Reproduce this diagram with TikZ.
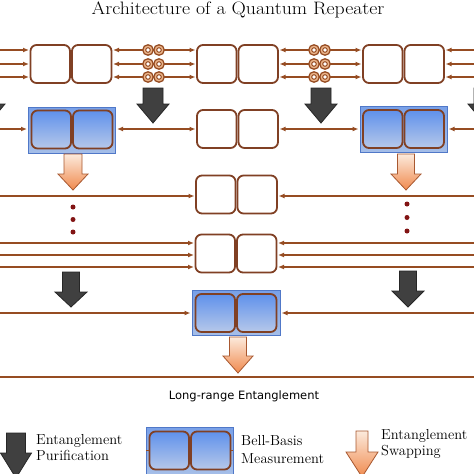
\documentclass[tikz,border=0pt]{standalone}
\usepackage{fontspec}
\newfontfamily\lrefont{DejaVu Sans}
\usetikzlibrary{arrows.meta,calc}
\definecolor{brn}{RGB}{150,76,34}
\definecolor{cellbrn}{RGB}{128,64,36}
\definecolor{bluetop}{RGB}{95,145,235}
\definecolor{bluebot}{RGB}{182,200,234}
\definecolor{bgtop}{RGB}{120,160,232}
\definecolor{bgbot}{RGB}{165,190,232}
\definecolor{blueedge}{RGB}{80,120,200}
\definecolor{darkfill}{RGB}{64,64,64}
\definecolor{orTop}{RGB}{252,234,220}
\definecolor{orBot}{RGB}{240,138,78}
\definecolor{orEdge}{RGB}{168,88,48}
\definecolor{ringfill}{RGB}{236,182,140}
\definecolor{dotred}{RGB}{130,20,20}
\newcommand\blockarrow[7]{%
  \path[#1] ({#2-#5},{-#3}) -- ({#2+#5},{-#3}) -- ({#2+#5},{-#7}) -- ({#2+#6},{-#7}) -- (#2,{-#4}) -- ({#2-#6},{-#7}) -- ({#2-#5},{-#7}) -- cycle;}
\newcommand\qpair[4]{%
  \node[pairbox] (#1) at (#2,#3) {};
  \node[#4, anchor=east] (#1a) at ([xshift=-1pt]#1.center) {};
  \node[#4, anchor=west] (#1b) at ([xshift=1pt]#1.center) {};}
\begin{document}
\begin{tikzpicture}[x=1pt,y=1pt,
  >={Latex[length=6pt,width=5pt]},
  conn/.style={draw=brn, line width=1.9pt},
  tipgap/.style={shorten >=1.5pt},
  bothgap/.style={shorten >=1.5pt, shorten <=1.5pt},
  cellb/.style={draw=cellbrn, line width=1.8pt, rounded corners=6pt, fill=white,
    minimum width=39.5pt, minimum height=38pt, inner sep=0pt, outer sep=0pt},
  bluecell/.style={cellb, top color=bluetop, bottom color=bluebot},
  pairbox/.style={minimum width=81pt, minimum height=38pt, inner sep=0pt, outer sep=0pt},
  bellbox/.style={draw=blueedge, line width=0.8pt, top color=bgtop, bottom color=bgbot,
    inner sep=0pt, outer sep=0pt, minimum width=87pt, minimum height=46pt},
  ring/.style={circle, draw=brn, fill=ringfill, line width=1.3pt, minimum size=10.5pt, inner sep=0pt,
    path picture={\draw[brn, line width=1pt, fill=white] (path picture bounding box.center) circle (2.3pt);}},
  qdot/.style={circle, fill=dotred, minimum size=5pt, inner sep=0pt},
  darkarr/.style={fill=darkfill, draw=black!85, line width=0.8pt},
  orarr/.style={top color=orTop, bottom color=orBot, draw=orEdge, line width=0.8pt},
  titlefont/.style={font=\fontsize{18}{22}\selectfont},
  legfont/.style={font=\fontsize{14.5}{17}\selectfont, inner sep=0pt},
]
\useasboundingbox (0,-474) rectangle (474,0);
\clip (0,-474) rectangle (474,0);
\fill[white] (0,-474) rectangle (474,0);
\coordinate (W) at (0,0);
\coordinate (E) at (474,0);

% title
\node[titlefont, anchor=base, inner sep=0pt] (title) at (238,-14) {\scalebox{1.1}[1]{Architecture of a Quantum Repeater}};

% ---- row 1
\qpair{A1}{71}{-64}{cellb}
\qpair{B1}{237.5}{-64}{cellb}
\qpair{C1}{403.5}{-64}{cellb}
\coordinate (ya) at (0,-50);
\coordinate (yb) at (0,-64);
\coordinate (yc) at (0,-77);
\foreach \r in {ya,yb,yc}{
  \draw[conn,->,tipgap] (W |- \r) -- (A1.west |- \r);
  \draw[conn,<->,bothgap] (A1.east |- \r) -- (B1.west |- \r);
  \draw[conn,<->,bothgap] (B1.east |- \r) -- (C1.west |- \r);
  \draw[conn,->,tipgap] (E |- \r) -- (C1.east |- \r);
}
\foreach \r/\n in {ya/a,yb/b,yc/c}{
  \node[ring] (rl1\n) at (148,0 |- \r) {};
  \node[ring] (rl2\n) at (159,0 |- \r) {};
  \node[ring] (rr1\n) at (314,0 |- \r) {};
  \node[ring] (rr2\n) at (325,0 |- \r) {};
}

% purification arrows row 1
\blockarrow{darkarr}{-11}{88}{123}{10}{16}{104}
\blockarrow{darkarr}{153}{88}{123}{10}{16}{104}
\blockarrow{darkarr}{321}{88}{123}{10}{16}{104}
\blockarrow{darkarr}{484}{88}{123}{10}{16}{104}

% ---- row 2
\node[bellbox] (A2bg) at (72,-130) {};
\qpair{A2}{72}{-129.5}{bluecell}
\qpair{B2}{237.5}{-129}{cellb}
\node[bellbox] (C2bg) at (403.5,-129) {};
\qpair{C2}{403.5}{-129}{bluecell}
\coordinate (y2) at (0,-129);
\draw[conn,->,tipgap] (W |- y2) -- (A2bg.west |- y2);
\draw[conn,<->,bothgap] (A2bg.east |- y2) -- (B2.west |- y2);
\draw[conn,<->,bothgap] (B2.east |- y2) -- (C2bg.west |- y2);
\draw[conn,->,tipgap] (E |- y2) -- (C2bg.east |- y2);

% swapping arrows
\blockarrow{orarr}{73}{154}{190}{9}{15}{174}
\blockarrow{orarr}{406}{154}{190}{8.5}{15}{174}

% ---- row 3
\qpair{B3}{236.5}{-194.5}{cellb}
\coordinate (y3) at (0,-196);
\draw[conn,->,tipgap] (W |- y3) -- (B3.west |- y3);
\draw[conn,->,tipgap] (E |- y3) -- (B3.east |- y3);

% dots
\node[qdot] (dl1) at (73,-207) {};
\node[qdot] (dl2) at (73,-219.5) {};
\node[qdot] (dl3) at (73,-232) {};
\node[qdot] (dr1) at (407,-204) {};
\node[qdot] (dr2) at (407,-217.5) {};
\node[qdot] (dr3) at (407,-231) {};

% ---- row 4
\qpair{B4}{236}{-253.5}{cellb}
\coordinate (y4a) at (0,-243);
\coordinate (y4b) at (0,-255);
\coordinate (y4c) at (0,-267);
\foreach \r in {y4a,y4b,y4c}{
  \draw[conn,->,tipgap] (W |- \r) -- (B4.west |- \r);
  \draw[conn,->,tipgap] (E |- \r) -- (B4.east |- \r);
}
\blockarrow{darkarr}{71}{272}{307}{8.5}{16}{292}
\blockarrow{darkarr}{408}{271}{307}{8.5}{16}{291}

% ---- row 5
\node[bellbox, minimum width=88pt, minimum height=45pt] (B5bg) at (236,-312.5) {};
\qpair{B5}{236}{-313}{bluecell}
\coordinate (y5) at (0,-313);
\draw[conn,->,tipgap] (W |- y5) -- (B5bg.west |- y5);
\draw[conn,->,tipgap] (E |- y5) -- (B5bg.east |- y5);
\blockarrow{orarr}{238}{337}{373}{8.5}{15}{356}

% ---- row 6
\coordinate (y6) at (0,-377);
\draw[conn] (W |- y6) -- (E |- y6);
\node[font=\lrefont\fontsize{11.5}{13}\selectfont, anchor=base, inner sep=0pt] (lre) at (244,-399) {Long-range Entanglement};

% ---- legend
\blockarrow{darkarr}{16}{433}{478}{9.5}{15.5}{453}
\node[legfont, anchor=base west] (lg1a) at (36,-444) {Entanglement};
\node[legfont, anchor=base west] (lg1b) at (36,-460) {Purification};

\node[bellbox, minimum height=47pt] (LGbg) at (189.5,-450.5) {};
\qpair{LG}{190}{-450.5}{bluecell}
\draw[brn, line width=1.5pt] (LGbg.west) -- ++(2.5,0);
\draw[brn, line width=1.5pt] (LGbg.east) -- ++(-2.5,0);
\node[legfont, anchor=base west] (lg2a) at (241,-445) {Bell-Basis};
\node[legfont, anchor=base west] (lg2b) at (241,-463) {Measurement};

\blockarrow{orarr}{362}{431}{477}{6}{16}{452}
\node[legfont, anchor=base west] (lg3a) at (381,-439) {Entanglement};
\node[legfont, anchor=base west] (lg3b) at (381,-455) {Swapping};
\end{tikzpicture}
\end{document}
